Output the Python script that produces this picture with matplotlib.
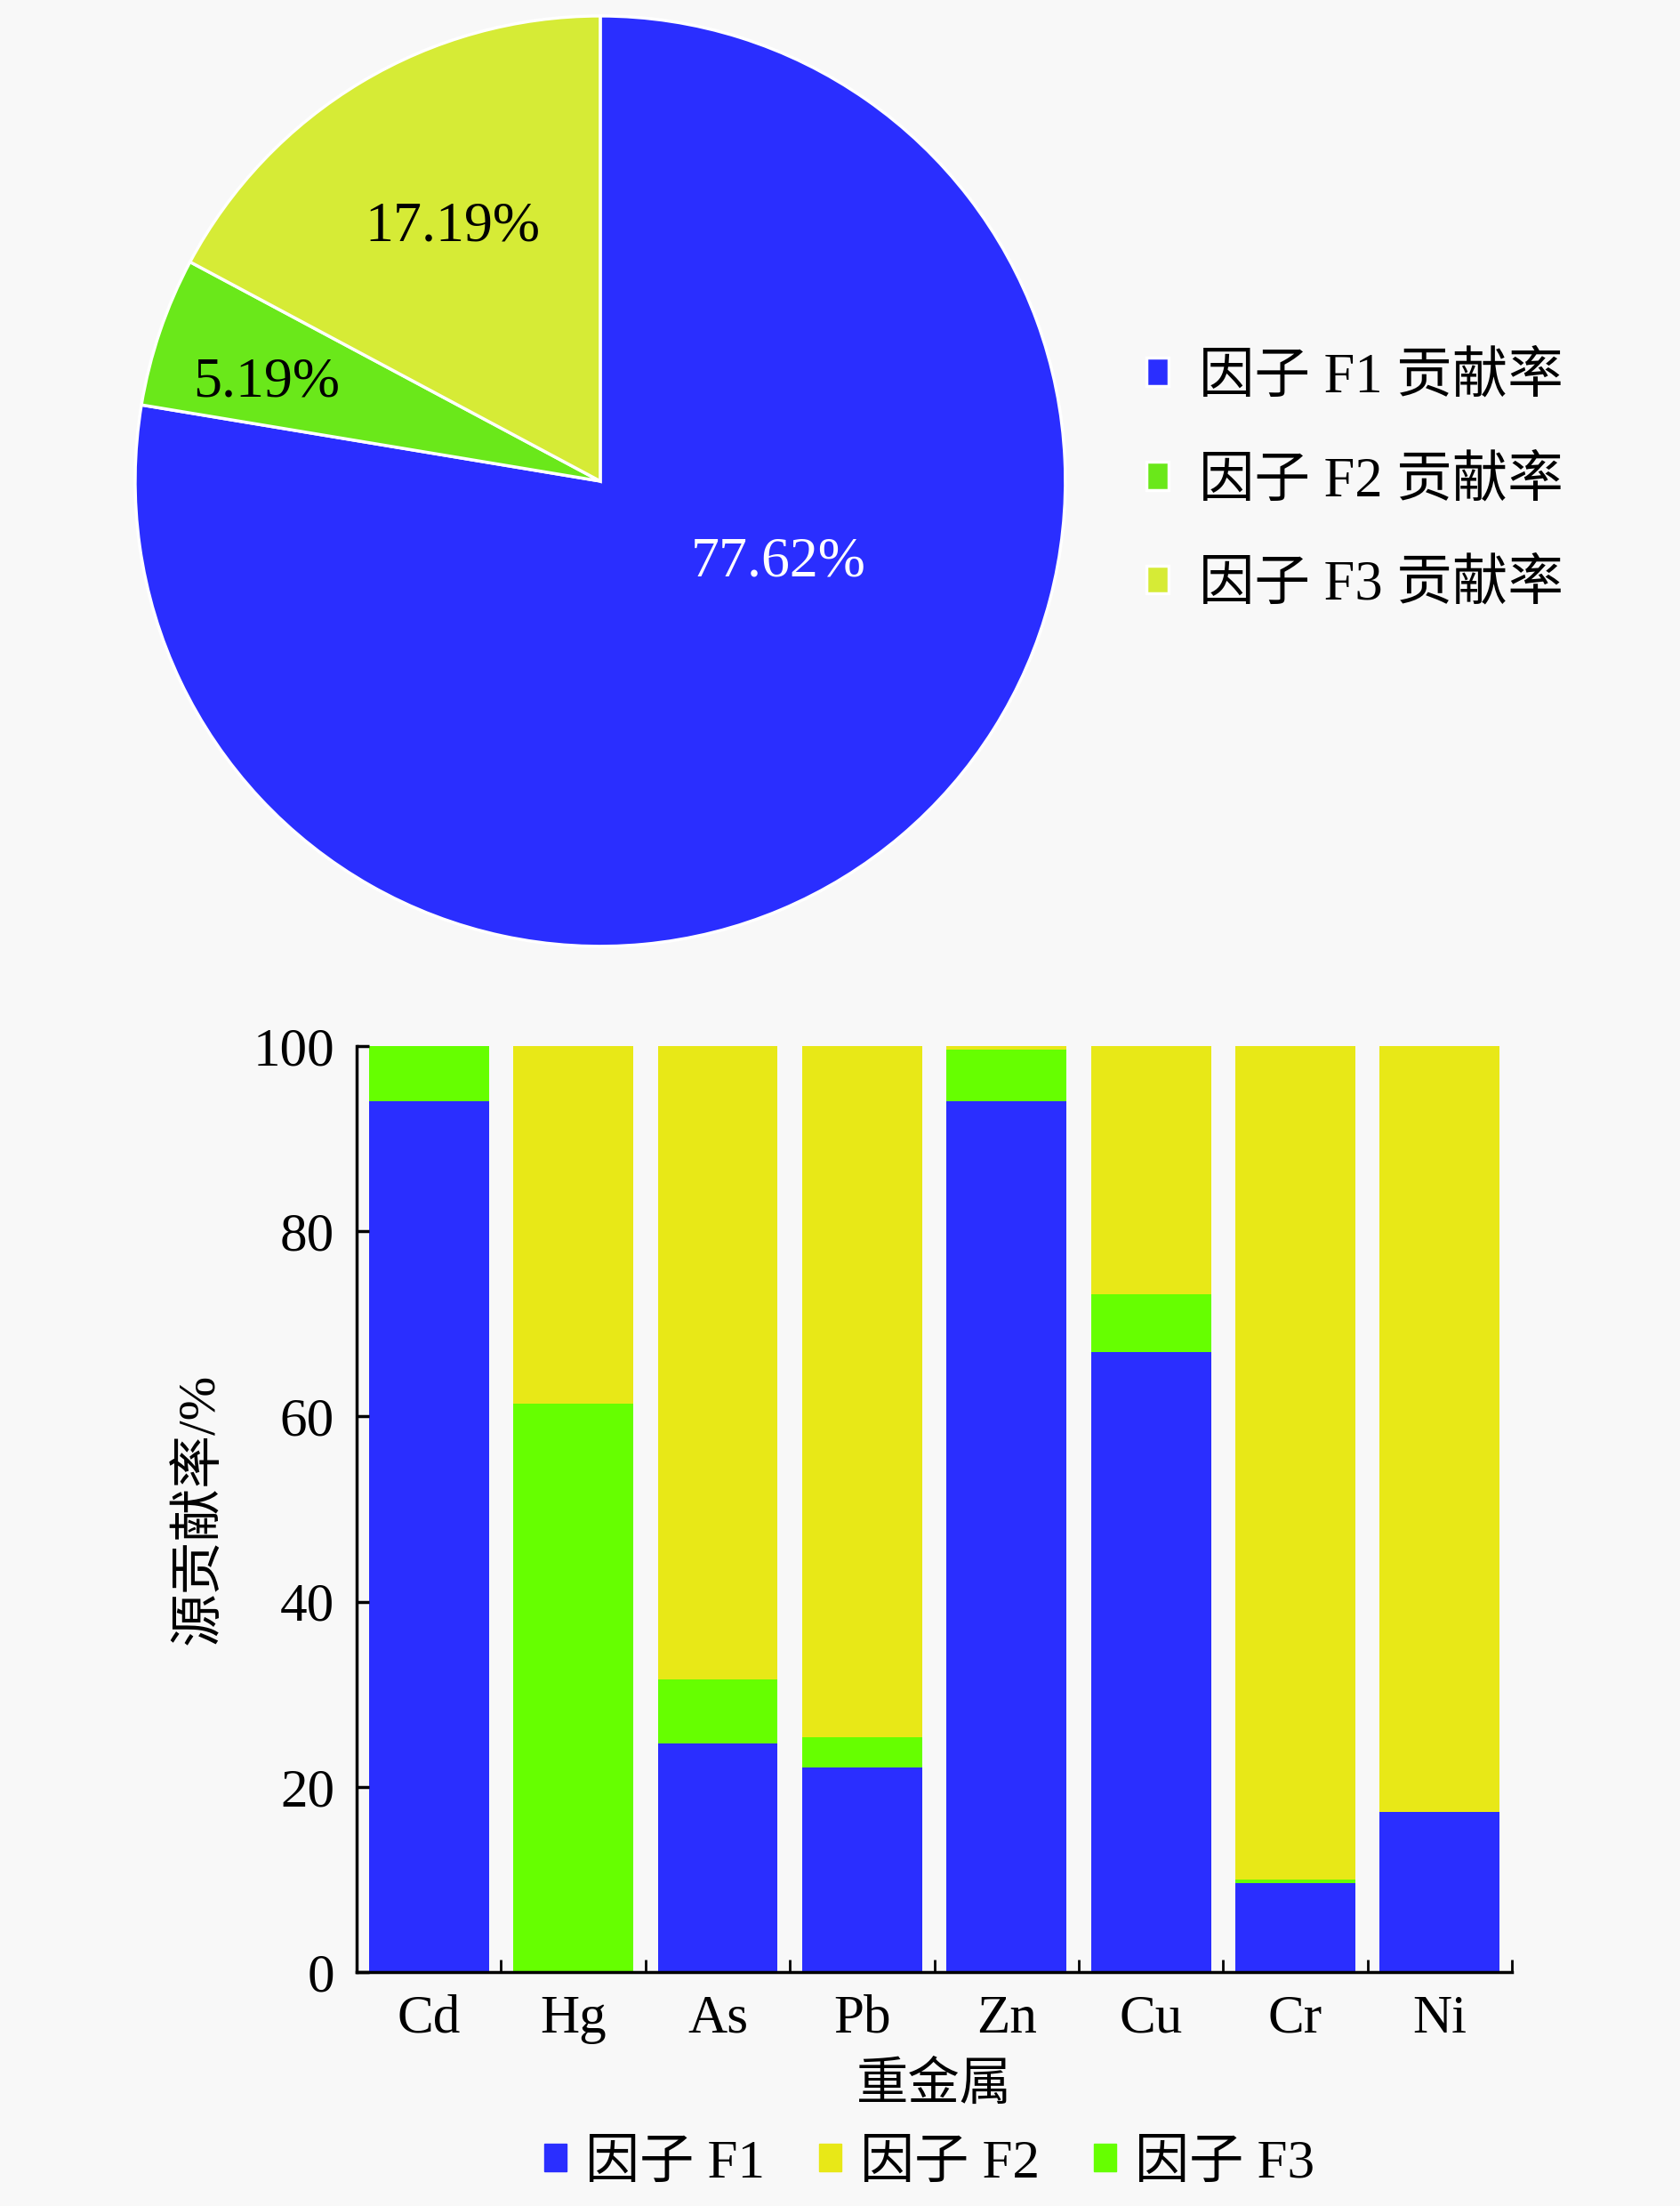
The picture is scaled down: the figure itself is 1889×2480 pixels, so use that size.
import matplotlib
matplotlib.use('Agg')
from matplotlib import pyplot as plt
from matplotlib.patches import Patch
import numpy as np

plt.rcParams['font.family'] = ['Liberation Serif', 'Noto Sans CJK SC', 'DejaVu Sans']

# данные: вклад факторов (круговая диаграмма)
pie_labels = ['因子 F1 贡献率', '因子 F2 贡献率', '因子 F3 贡献率']
pie_values = [77.62, 5.19, 17.19]
pie_colors = ['#2a2eff', '#6ae81a', '#d6eb36']

# данные: вклад источников по металлам
metals = ['Cd', 'Hg', 'As', 'Pb', 'Zn', 'Cu', 'Cr', 'Ni']
f1 = [94.0, 0.0, 24.7, 22.1, 94.0, 67.0, 9.6, 17.3]
f3 = [6.0, 61.4, 6.9, 3.3, 5.6, 6.2, 0.4, 0.0]
f2 = [0.0, 38.6, 68.4, 74.6, 0.4, 26.8, 90.0, 82.7]
bar_labels = ['因子 F1', '因子 F2', '因子 F3']
c_f1, c_f2, c_f3 = '#2a2eff', '#e8e817', '#66ff00'

bg = '#f8f8f8'
fig = plt.figure(figsize=(18.9, 24.8), dpi=100, facecolor=bg)

# круговая диаграмма
ax_pie = fig.add_axes([0.0804, 0.571, 0.5534, 0.4218])
ax_pie.set_facecolor(bg)
wedges, _ = ax_pie.pie(pie_values, colors=pie_colors, startangle=90, counterclock=False,
                       radius=1, wedgeprops=dict(edgecolor='white', linewidth=2.5))
ax_pie.set_xlim(-1, 1)
ax_pie.set_ylim(-1, 1)
ax_pie.set_aspect('equal')
ax_pie.axis('off')

# подписи процентов
pct_pos = [(0.382, -0.176), (-0.717, 0.212), (-0.317, 0.545)]
pct_col = ['white', 'black', 'black']
for v, (x, y), c in zip(pie_values, pct_pos, pct_col):
    ax_pie.text(x, y, f'{v:.2f}%', color=c, fontsize=46, ha='center', va='center')

fig.legend(wedges, pie_labels, loc='center left', bbox_to_anchor=(0.652, 0.7815),
           frameon=False, fontsize=45, handlelength=0.4, handleheight=0.4,
           handletextpad=0.55, labelspacing=0.93)

# столбчатая диаграмма
ax = fig.add_axes([0.2122, 0.1060, 0.6873, 0.4198])
ax.set_facecolor(bg)
x = np.arange(len(metals))
w = 0.83
ax.bar(x, f1, w, color=c_f1, linewidth=0)
ax.bar(x, f3, w, bottom=f1, color=c_f3, linewidth=0)
ax.bar(x, f2, w, bottom=np.array(f1) + np.array(f3), color=c_f2, linewidth=0)

ax.set_xlim(-0.5, 7.5)
ax.set_ylim(0, 100)
ax.spines['top'].set_visible(False)
ax.spines['right'].set_visible(False)
ax.spines['left'].set_linewidth(2.5)
ax.spines['bottom'].set_linewidth(2.5)

ax.set_yticks(np.arange(0, 101, 20))
ax.set_xticks(x)
ax.set_xticklabels(metals)
ax.set_xticks(np.arange(0.5, 8, 1), minor=True)
ax.tick_params(axis='y', direction='in', length=10, width=2.5, labelsize=44, pad=18)
ax.tick_params(axis='x', which='major', length=0, labelsize=44, pad=18)
ax.tick_params(axis='x', which='minor', direction='in', length=10, width=2)

ax.set_ylabel('源贡献率/%', fontsize=43)
ax.yaxis.label.set_va('center')
ax.yaxis.set_label_coords(-0.135, 0.5)
ax.set_xlabel('重金属', fontsize=42)
ax.xaxis.label.set_va('center')
ax.xaxis.set_label_coords(0.5, -0.123)

handles = [Patch(color=c_f1), Patch(color=c_f2), Patch(color=c_f3)]
fig.legend(handles, bar_labels, loc='center', bbox_to_anchor=(0.553, 0.019), ncol=3,
           frameon=False, fontsize=44, handlelength=0.4, handleheight=0.4,
           handletextpad=0.35, columnspacing=1.0)

fig.savefig('out.png', dpi=100, facecolor=bg)
